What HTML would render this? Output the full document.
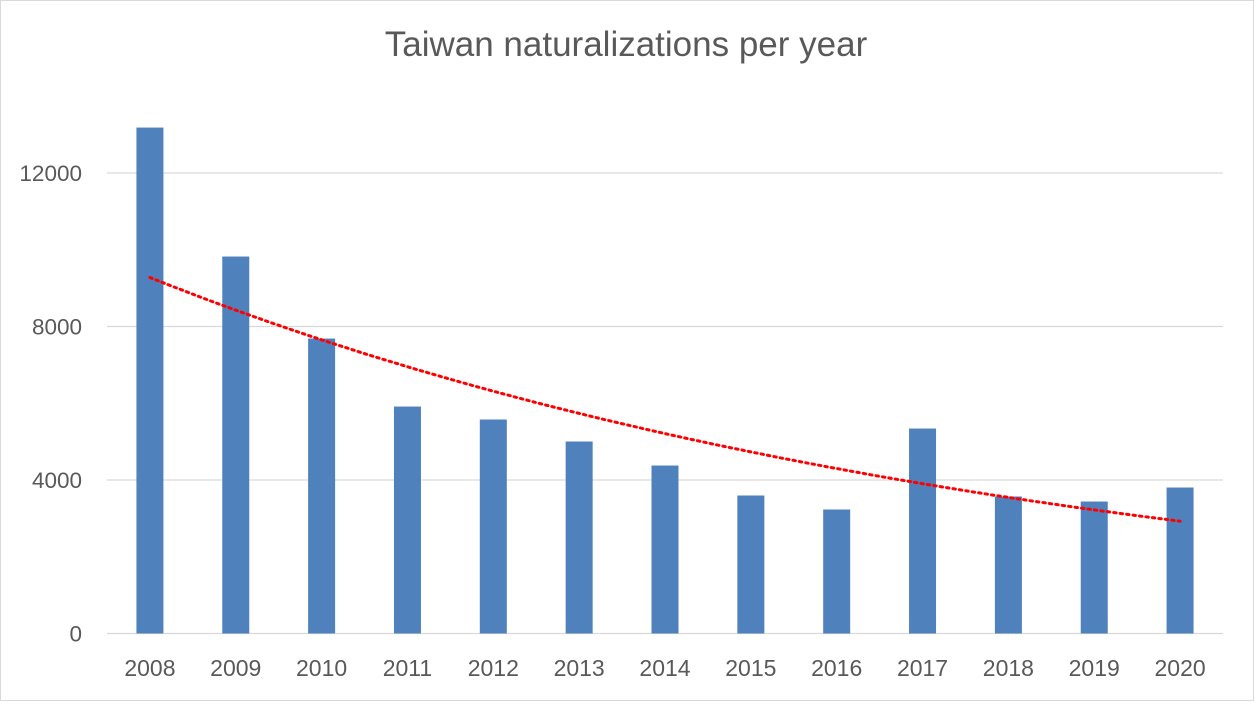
<!DOCTYPE html>
<html><head><meta charset="utf-8"><style>
html,body{margin:0;padding:0;background:#fff}
body{width:1254px;height:703px;overflow:hidden}
text{font-family:"Liberation Sans",sans-serif}
</style></head><body>
<svg id="chart" width="1254" height="703" xmlns="http://www.w3.org/2000/svg">
<rect x="0.5" y="0.5" width="1253" height="700" fill="#fff" stroke="#d9d9d9"/>
<text x="626" y="56" text-anchor="middle" font-size="35" fill="#595959">Taiwan naturalizations per year</text>
<g id="grid"></g><g id="bars"></g><g id="trend"></g><g id="xlabels"></g><g id="ylabels"></g>
</svg>
<script>
const years = ["2008","2009","2010","2011","2012","2013","2014","2015","2016","2017","2018","2019","2020"];
const counts = [13184,9823,7686,5914,5576,5003,4377,3596,3231,5341,3570,3439,3804];
const yTicks = [0,4000,8000,12000];
const NS="http://www.w3.org/2000/svg";
const x0=107,x1=1223,yBase=633.5,pxPer=153.5/4000;
const step=(x1-x0)/years.length;
const xc=i=>x0+step*(i+0.5);
const y=v=>yBase-v*pxPer;
function mk(t,a,p){const e=document.createElementNS(NS,t);for(const k in a)e.setAttribute(k,a[k]);p.appendChild(e);return e;}
const g=document.getElementById('grid'),b=document.getElementById('bars'),tr=document.getElementById('trend'),xl=document.getElementById('xlabels'),yl=document.getElementById('ylabels');
yTicks.forEach(v=>{
 const l=mk('line',{x1:x0,x2:x1,y1:y(v),y2:y(v),stroke:'#d9d9d9','stroke-width':1.3},g);
 
 
 const t=mk('text',{x:82,y:y(v)+8,'text-anchor':'end','font-size':22.5,fill:'#595959'},yl);
 t.textContent=v;
 
 
});
years.forEach((yr,i)=>{
 const r=mk('rect',{x:xc(i)-13.5,y:y(counts[i]),width:27,height:counts[i]*pxPer,fill:'#4f81bd'},b);
 
 
 const t=mk('text',{x:xc(i),y:676,'text-anchor':'middle','font-size':23,fill:'#595959'},xl);
 t.textContent=yr;
 
 
});
const n=counts.length;let sx=0,sy=0,sxx=0,sxy=0;
counts.forEach((v,i)=>{const lv=Math.log(v);sx+=i;sy+=lv;sxx+=i*i;sxy+=i*lv;});
const bb=(n*sxy-sx*sy)/(n*sxx-sx*sx),aa=(sy-bb*sx)/n;
let d='';
for(let k=0;k<=120;k++){const t=k/120*(n-1);d+=(k?'L':'M')+xc(t).toFixed(1)+','+y(Math.exp(aa+bb*t)).toFixed(1);}
const p=mk('path',{d:d,fill:'none',stroke:'#ff0000','stroke-width':3,'stroke-dasharray':'2.5 4','stroke-linecap':'round'},tr);


</script>
</body></html>
